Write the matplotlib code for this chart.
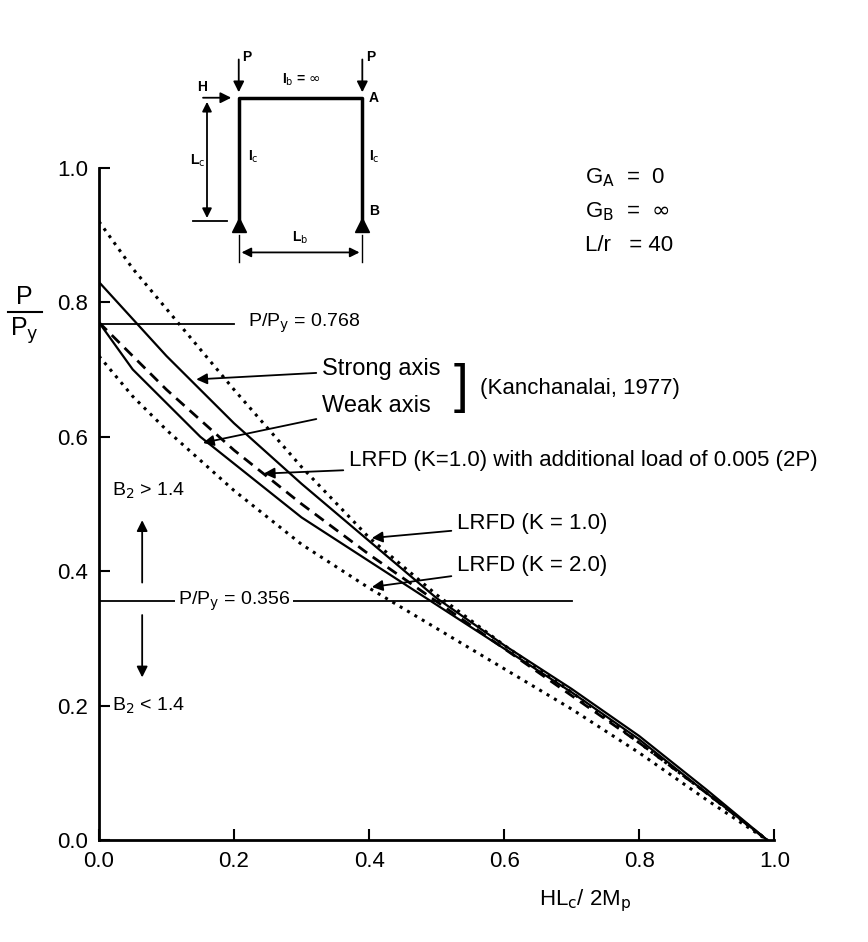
import matplotlib
matplotlib.use('Agg')
import matplotlib.pyplot as plt

plt.rcParams['font.family'] = ['Liberation Sans', 'DejaVu Sans']

# curve data
x_pts = [0.0, 0.05, 0.1, 0.15, 0.2, 0.3, 0.4, 0.5, 0.6, 0.7, 0.8, 0.9, 0.99]
strong = [0.83, 0.775, 0.72, 0.67, 0.62, 0.53, 0.445, 0.36, 0.29, 0.225, 0.155, 0.075, 0.0]
weak = [0.77, 0.70, 0.65, 0.60, 0.56, 0.48, 0.415, 0.35, 0.285, 0.22, 0.15, 0.07, 0.0]
lrfd_add = [0.77, 0.72, 0.67, 0.625, 0.58, 0.50, 0.425, 0.355, 0.285, 0.215, 0.145, 0.07, 0.0]
lrfd_k1 = [0.92, 0.85, 0.79, 0.73, 0.67, 0.555, 0.45, 0.365, 0.29, 0.22, 0.145, 0.07, 0.0]
lrfd_k2 = [0.72, 0.66, 0.61, 0.565, 0.52, 0.44, 0.375, 0.315, 0.255, 0.195, 0.13, 0.06, 0.0]
x_ticks = [0.0, 0.2, 0.4, 0.6, 0.8, 1.0]
y_ticks = [0.0, 0.2, 0.4, 0.6, 0.8, 1.0]

fig = plt.figure(figsize=(8.68, 9.42), dpi=100)
ax = fig.add_axes([0.114, 0.108, 0.778, 0.714])
ax.set_xlim(0, 1)
ax.set_ylim(0, 1)
for s in ['top', 'right']:
    ax.spines[s].set_visible(False)
for s in ['left', 'bottom']:
    ax.spines[s].set_linewidth(2)
ax.set_xticks(x_ticks)
ax.set_yticks(y_ticks)
ax.set_xticklabels(['%.1f' % v for v in x_ticks])
ax.set_yticklabels(['%.1f' % v for v in y_ticks])
ax.tick_params(direction='in', length=8, width=1.5, labelsize=16, pad=8)

lw = 1.6
ax.plot(x_pts, strong, color='k', lw=lw)
ax.plot(x_pts, weak, color='k', lw=lw)
ax.plot(x_pts, lrfd_add, color='k', lw=2, ls=(0, (4, 2.5)))
ax.plot(x_pts, lrfd_k1, color='k', lw=2.2, ls=(0, (1, 1.8)))
ax.plot(x_pts, lrfd_k2, color='k', lw=2.2, ls=(0, (1, 1.8)))

fs = 16
ax.plot([0, 0.2], [0.768, 0.768], color='k', lw=1.3)
ax.text(0.22, 0.768, 'P/P$_\\mathsf{y}$ = 0.768', fontsize=14, va='center')
ax.plot([0, 0.70], [0.356, 0.356], color='k', lw=1.3)
ax.text(0.2, 0.356, 'P/P$_\\mathsf{y}$ = 0.356', fontsize=14, va='center', ha='center',
        bbox=dict(facecolor='white', edgecolor='none', pad=2))

arr = dict(arrowstyle='-|>', color='k', lw=1.3, mutation_scale=16)
ax.annotate('', xy=(0.064, 0.48), xytext=(0.064, 0.379), arrowprops=arr)
ax.annotate('', xy=(0.064, 0.238), xytext=(0.064, 0.339), arrowprops=arr)
ax.text(0.02, 0.52, 'B$_\\mathsf{2}$ > 1.4', fontsize=14, va='center')
ax.text(0.02, 0.20, 'B$_\\mathsf{2}$ < 1.4', fontsize=14, va='center')

ax.annotate('Strong axis', xy=(0.14, 0.685), xytext=(0.33, 0.70), fontsize=fs + 1,
            va='center', arrowprops=arr)
ax.annotate('Weak axis', xy=(0.15, 0.59), xytext=(0.33, 0.645), fontsize=fs + 1,
            va='center', arrowprops=arr)
ax.text(0.525, 0.672, ']', fontsize=38, va='center')
ax.text(0.565, 0.672, '(Kanchanalai, 1977)', fontsize=fs, va='center')
ax.annotate('LRFD (K=1.0) with additional load of 0.005 (2P)', xy=(0.24, 0.545),
            xytext=(0.37, 0.565), fontsize=fs, va='center', arrowprops=arr,
            annotation_clip=False)
ax.annotate('LRFD (K = 1.0)', xy=(0.40, 0.449), xytext=(0.53, 0.471), fontsize=fs,
            va='center', arrowprops=arr)
ax.annotate('LRFD (K = 2.0)', xy=(0.40, 0.376), xytext=(0.53, 0.409), fontsize=fs,
            va='center', arrowprops=arr)

ax.text(0.72, 0.985, 'G$_\\mathsf{A}$  =  0', fontsize=fs, va='center')
ax.text(0.72, 0.935, 'G$_\\mathsf{B}$  =  $\\mathsf{\\infty}$', fontsize=fs, va='center')
ax.text(0.72, 0.885, 'L/r   = 40', fontsize=fs, va='center')

ax.text(-0.11, 0.79, 'P', fontsize=18, ha='center', va='bottom')
ax.plot([-0.135, -0.085], [0.785, 0.785], color='k', lw=1.5, clip_on=False)
ax.text(-0.11, 0.78, 'P$_\\mathsf{y}$', fontsize=18, ha='center', va='top')
ax.set_xlabel('HL$_\\mathsf{c}$/ 2M$_\\mathsf{p}$', fontsize=16)
ax.xaxis.set_label_coords(0.72, -0.07)

# frame sketch above the plot
k = dict(color='k', lw=2.5, clip_on=False)
ax.plot([0.207, 0.207, 0.39, 0.39], [0.921, 1.104, 1.104, 0.921], **k)
for xc in [0.207, 0.39]:
    ax.plot([xc], [0.915], marker='^', color='k', ms=10, clip_on=False)
    ax.annotate('', xy=(xc, 1.108), xytext=(xc, 1.165), arrowprops=arr, annotation_clip=False)
    ax.text(xc + 0.005, 1.165, 'P', fontsize=10, fontweight='bold', va='center')
ax.annotate('', xy=(0.2, 1.104), xytext=(0.15, 1.104), arrowprops=arr, annotation_clip=False)
ax.text(0.145, 1.12, 'H', fontsize=10, fontweight='bold', va='center')
ax.annotate('', xy=(0.16, 0.921), xytext=(0.16, 1.102),
            arrowprops=dict(arrowstyle='<|-|>', color='k', lw=1.3, mutation_scale=14),
            annotation_clip=False)
ax.plot([0.14, 0.19], [0.921, 0.921], color='k', lw=1.3, clip_on=False)
ax.text(0.135, 1.01, 'L$_\\mathsf{c}$', fontsize=10, fontweight='bold', va='center')
ax.annotate('', xy=(0.207, 0.874), xytext=(0.39, 0.874),
            arrowprops=dict(arrowstyle='<|-|>', color='k', lw=1.3, mutation_scale=14),
            annotation_clip=False)
ax.plot([0.207, 0.207], [0.86, 0.9], color='k', lw=1, clip_on=False)
ax.plot([0.39, 0.39], [0.86, 0.9], color='k', lw=1, clip_on=False)
ax.text(0.298, 0.89, 'L$_\\mathsf{b}$', fontsize=10, fontweight='bold', ha='center')
ax.text(0.3, 1.125, 'I$_\\mathsf{b}$ = $\\mathsf{\\infty}$', fontsize=10, fontweight='bold', ha='center')
ax.text(0.22, 1.01, 'I$_\\mathsf{c}$', fontsize=10, fontweight='bold')
ax.text(0.4, 1.01, 'I$_\\mathsf{c}$', fontsize=10, fontweight='bold')
ax.text(0.4, 1.104, 'A', fontsize=10, fontweight='bold', va='center')
ax.text(0.4, 0.935, 'B', fontsize=10, fontweight='bold', va='center')

fig.savefig('out.png', dpi=100)
